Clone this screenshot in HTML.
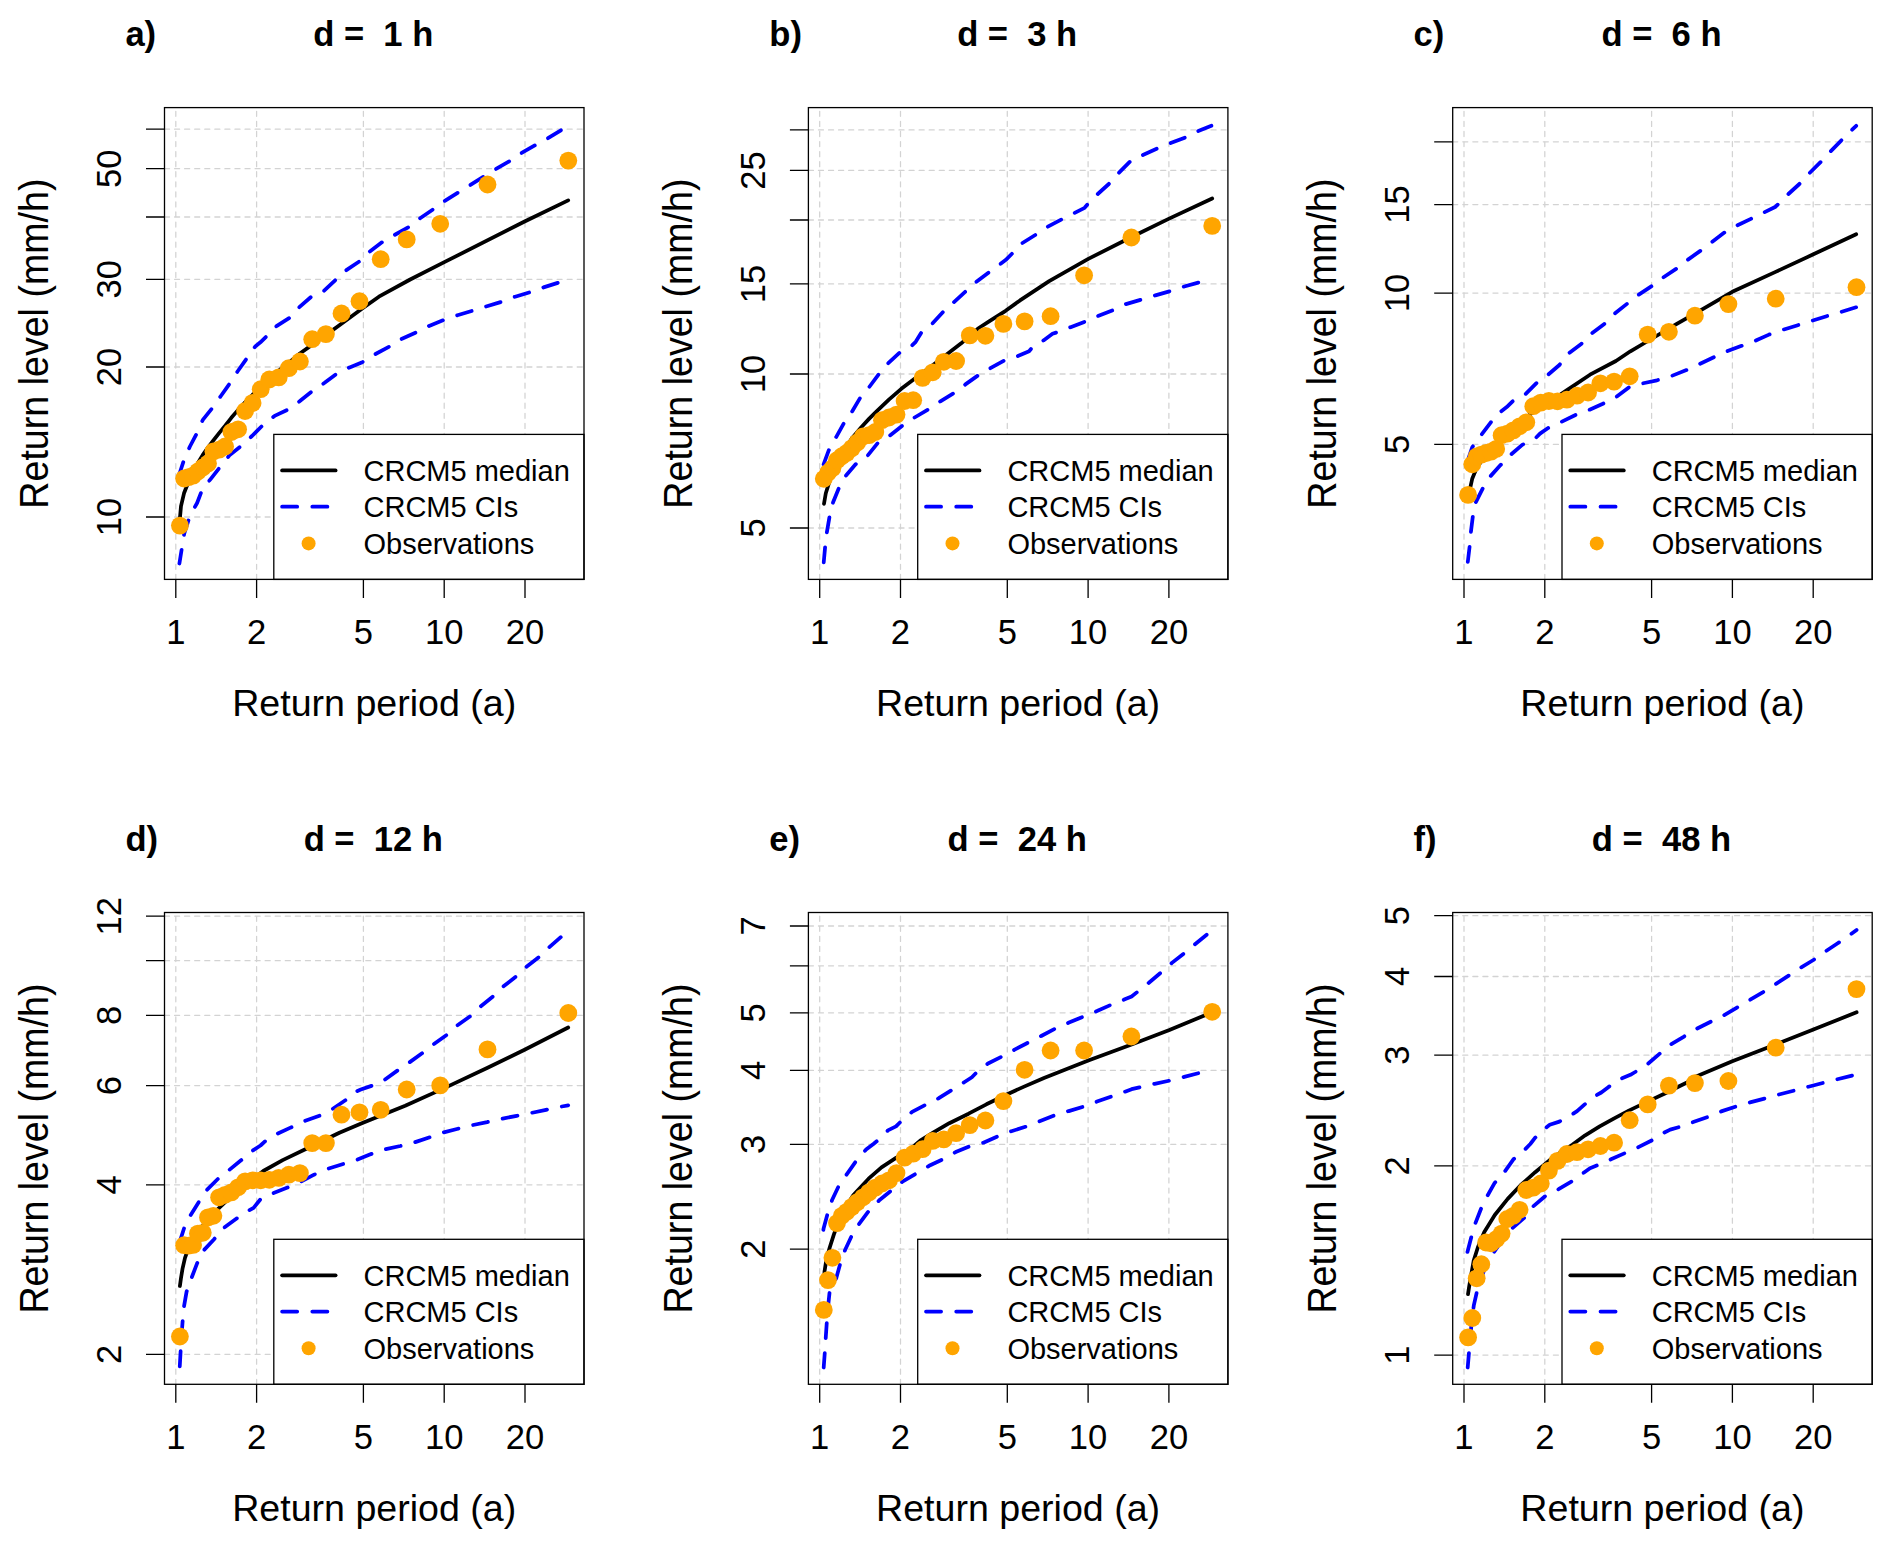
<!DOCTYPE html>
<html lang="en"><head><meta charset="utf-8"><title>Return level plots</title>
<style>html,body{margin:0;padding:0;background:#fff}body{width:1892px;height:1549px;overflow:hidden}svg{display:block}</style>
</head><body>
<svg width="1892" height="1549" viewBox="0 0 1892 1549" font-family='"Liberation Sans", Arial, Helvetica, sans-serif'>
<rect width="1892" height="1549" fill="#fff"/>
<g transform="translate(0.0,0.0)">
<clipPath id="cp0"><rect x="164.5" y="107.6" width="419.5" height="471.79999999999995"/></clipPath>
<path d="M175.8 579.4V107.6M256.6 579.4V107.6M363.4 579.4V107.6M444.2 579.4V107.6M525.0 579.4V107.6M164.5 129.2H584.0M164.5 168.7H584.0M164.5 217.0H584.0M164.5 279.3H584.0M164.5 367.0H584.0M164.5 517.0H584.0" stroke="#d3d3d3" stroke-width="1.26" stroke-linecap="round" stroke-dasharray="5.033 5.033" fill="none"/>
<g clip-path="url(#cp0)" fill="none" stroke-linecap="round" stroke-linejoin="round" stroke-width="3.75">
<polyline points="179.9,518.3 181.0,506.2 184.0,493.3 188.4,482.0 193.1,472.7 197.9,463.0 202.8,454.9 207.9,447.7 213.4,440.4 219.1,433.1 225.0,425.9 231.3,417.8 238.1,409.9 245.1,402.3 252.6,394.7 260.7,387.1 269.3,378.7 278.6,370.7 288.8,362.6 299.9,353.5 322.9,337.1 339.4,325.2 363.3,307.8 378.9,296.7 410.2,279.5 444.3,262.2 524.6,221.5 568.2,200.4" stroke="#000"/>
<polyline points="568.2,125.8 562.5,129.3 548.0,138.2 536.5,144.5 521.6,153.0 510.6,160.6 495.8,169.1 485.1,175.7 469.9,185.3 459.1,191.9 444.8,200.9 434.1,208.7 420.1,218.2 409.9,226.4 394.5,235.0 383.3,241.3 369.8,251.5 360.8,260.5 346.0,270.4 336.9,278.6 323.8,291.0 312.2,295.9 299.1,307.4 290.0,317.6 276.5,326.1 267.0,335.9 260.4,342.3 255.2,346.5 247.2,357.8 237.5,371.5 230.2,382.8 220.5,396.5 212.5,407.8 202.8,419.9 197.1,432.8 189.9,446.5 184.2,459.4 179.4,474.0 178.2,477.2" stroke="#0000ff" stroke-dasharray="15.1 15.1" stroke-dashoffset="21.60"/>
<polyline points="568.2,279.5 559.5,282.3 543.5,287.4 530.4,292.1 515.1,296.7 501.9,301.7 485.9,306.6 472.7,310.7 457.4,315.3 444.3,319.8 429.1,325.9 416.8,332.1 402.0,338.7 389.6,346.5 374.8,354.4 361.7,362.6 349.6,367.4 337.5,373.1 324.6,382.8 311.7,391.6 299.6,401.3 288.3,409.4 274.6,415.9 263.3,424.7 252.0,436.0 241.5,445.7 229.4,455.4 219.7,467.5 210.8,478.8 202.0,490.1 197.1,503.0 189.9,515.9 184.2,533.7 179.4,563.5" stroke="#0000ff" stroke-dasharray="15.1 15.1" stroke-dashoffset="19.20"/>
</g>
<g clip-path="url(#cp0)" fill="#ffa500">
<circle cx="179.9" cy="525.6" r="8.9"/>
<circle cx="184.1" cy="478.5" r="8.9"/>
<circle cx="188.5" cy="477.2" r="8.9"/>
<circle cx="193.1" cy="475.6" r="8.9"/>
<circle cx="197.9" cy="471.5" r="8.9"/>
<circle cx="202.8" cy="467.5" r="8.9"/>
<circle cx="208.0" cy="463.5" r="8.9"/>
<circle cx="213.4" cy="451.4" r="8.9"/>
<circle cx="219.1" cy="449.7" r="8.9"/>
<circle cx="225.1" cy="446.5" r="8.9"/>
<circle cx="231.4" cy="432.0" r="8.9"/>
<circle cx="238.1" cy="429.3" r="8.9"/>
<circle cx="245.1" cy="411.0" r="8.9"/>
<circle cx="252.6" cy="402.9" r="8.9"/>
<circle cx="260.7" cy="389.2" r="8.9"/>
<circle cx="269.3" cy="379.5" r="8.9"/>
<circle cx="278.7" cy="377.4" r="8.9"/>
<circle cx="288.8" cy="368.2" r="8.9"/>
<circle cx="299.9" cy="361.5" r="8.9"/>
<circle cx="312.2" cy="339.2" r="8.9"/>
<circle cx="325.9" cy="334.1" r="8.9"/>
<circle cx="341.5" cy="313.5" r="8.9"/>
<circle cx="359.5" cy="301.2" r="8.9"/>
<circle cx="380.7" cy="259.2" r="8.9"/>
<circle cx="406.7" cy="239.4" r="8.9"/>
<circle cx="440.2" cy="223.8" r="8.9"/>
<circle cx="487.5" cy="184.5" r="8.9"/>
<circle cx="568.3" cy="160.6" r="8.9"/>
</g>
<rect x="273.8" y="434.4" width="310.2" height="145.0" fill="#fff" stroke="#000" stroke-width="1.3"/>
<path d="M282.1 470.4H335.6" stroke="#000" stroke-width="3.75" stroke-linecap="round"/>
<path d="M282.1 506.7H335.6" stroke="#0000ff" stroke-width="3.75" stroke-linecap="round" stroke-dasharray="15.1 15.1"/>
<circle cx="308.6" cy="543.4" r="7" fill="#ffa500"/>
<text x="363.5" y="481.1" font-size="29.0">CRCM5 median</text>
<text x="363.5" y="517.4" font-size="29.0">CRCM5 CIs</text>
<text x="363.5" y="553.7" font-size="29.0">Observations</text>
<rect x="164.5" y="107.6" width="419.5" height="471.79999999999995" fill="none" stroke="#000" stroke-width="1.3"/>
<text x="175.8" y="644" font-size="34.6" text-anchor="middle">1</text>
<text x="256.6" y="644" font-size="34.6" text-anchor="middle">2</text>
<text x="363.4" y="644" font-size="34.6" text-anchor="middle">5</text>
<text x="444.2" y="644" font-size="34.6" text-anchor="middle">10</text>
<text x="525.0" y="644" font-size="34.6" text-anchor="middle">20</text>
<text transform="translate(121,168.7) rotate(-90)" font-size="34.6" text-anchor="middle">50</text>
<text transform="translate(121,279.3) rotate(-90)" font-size="34.6" text-anchor="middle">30</text>
<text transform="translate(121,367.0) rotate(-90)" font-size="34.6" text-anchor="middle">20</text>
<text transform="translate(121,517.0) rotate(-90)" font-size="34.6" text-anchor="middle">10</text>
<path d="M175.8 579.4v18.5M256.6 579.4v18.5M363.4 579.4v18.5M444.2 579.4v18.5M525.0 579.4v18.5M164.5 129.2h-18.5M164.5 168.7h-18.5M164.5 217.0h-18.5M164.5 279.3h-18.5M164.5 367.0h-18.5M164.5 517.0h-18.5" stroke="#000" stroke-width="1.3" fill="none"/>
<text x="374.2" y="716.3" font-size="37.6" text-anchor="middle">Return period (a)</text>
<text transform="translate(48.0,343.6) rotate(-90) scale(1,1.066)" font-size="37.6" text-anchor="middle">Return level (mm/h)</text>
<text x="373.3" y="46" font-size="34.6" font-weight="bold" text-anchor="middle" xml:space="preserve" style="white-space:pre">d =  1 h</text>
<text x="125.4" y="46" font-size="34.6" font-weight="bold">a)</text>
</g>
<g transform="translate(643.9,0.0)">
<clipPath id="cp1"><rect x="164.5" y="107.6" width="419.5" height="471.79999999999995"/></clipPath>
<path d="M175.8 579.4V107.6M256.6 579.4V107.6M363.4 579.4V107.6M444.2 579.4V107.6M525.0 579.4V107.6M164.5 129.9H584.0M164.5 170.4H584.0M164.5 220.0H584.0M164.5 283.9H584.0M164.5 374.0H584.0M164.5 528.0H584.0" stroke="#d3d3d3" stroke-width="1.26" stroke-linecap="round" stroke-dasharray="5.033 5.033" fill="none"/>
<g clip-path="url(#cp1)" fill="none" stroke-linecap="round" stroke-linejoin="round" stroke-width="3.75">
<polyline points="180.1,503.8 181.9,493.3 185.9,480.4 192.4,464.3 200.4,449.7 208.5,437.6 217.4,427.2 225.1,418.9 232.7,411.3 245.0,399.6 257.4,388.8 270.3,378.9 290.4,364.0 317.3,343.3 333.8,328.8 345.2,321.4 361.7,310.8 376.1,300.4 405.3,281.1 444.4,258.9 487.7,237.0 524.7,218.9 568.3,198.5" stroke="#000"/>
<polyline points="567.5,125.8 553.5,131.3 541.2,137.5 525.5,143.6 513.2,148.6 498.4,155.2 488.2,159.6 486.0,161.7 474.5,173.3 464.9,184.0 453.1,194.7 443.5,204.5 440.7,207.8 430.0,213.3 417.7,219.4 403.7,226.8 391.4,235.0 378.2,243.2 368.4,253.4 361.7,260.1 356.0,264.3 344.7,272.5 331.8,282.4 321.4,291.7 309.6,302.5 299.2,311.8 288.4,323.7 277.5,332.5 271.8,341.8 268.2,345.4 255.8,352.6 244.0,363.5 235.1,373.9 225.5,386.8 216.6,397.3 208.5,411.0 199.6,423.9 192.4,436.8 185.1,449.7 179.1,465.9 177.9,470.7" stroke="#0000ff" stroke-dasharray="15.1 15.1" stroke-dashoffset="31.20"/>
<polyline points="568.3,278.6 555.5,282.3 540.3,286.5 526.7,291.0 511.5,295.4 497.9,299.5 481.9,304.1 469.6,309.9 454.7,315.7 441.6,321.4 426.7,327.2 413.6,332.1 408.6,333.8 399.6,340.4 388.1,347.8 385.2,351.3 373.9,356.1 361.0,360.2 346.5,368.2 335.2,374.7 321.5,384.4 311.0,392.5 296.5,401.3 284.4,409.4 270.7,417.5 258.6,425.5 246.4,435.2 234.3,442.5 223.9,455.4 211.7,464.3 202.1,475.6 194.8,488.5 189.2,502.2 185.9,515.1 183.0,532.1 181.4,545.0 179.8,562.7" stroke="#0000ff" stroke-dasharray="15.1 15.1" stroke-dashoffset="15.70"/>
</g>
<g clip-path="url(#cp1)" fill="#ffa500">
<circle cx="179.9" cy="478.8" r="8.9"/>
<circle cx="184.1" cy="472.7" r="8.9"/>
<circle cx="188.5" cy="468.3" r="8.9"/>
<circle cx="193.1" cy="460.2" r="8.9"/>
<circle cx="197.9" cy="456.2" r="8.9"/>
<circle cx="202.8" cy="453.0" r="8.9"/>
<circle cx="208.0" cy="448.1" r="8.9"/>
<circle cx="213.4" cy="442.5" r="8.9"/>
<circle cx="219.1" cy="436.4" r="8.9"/>
<circle cx="225.1" cy="435.2" r="8.9"/>
<circle cx="231.4" cy="432.0" r="8.9"/>
<circle cx="238.1" cy="420.2" r="8.9"/>
<circle cx="245.1" cy="417.5" r="8.9"/>
<circle cx="252.6" cy="414.6" r="8.9"/>
<circle cx="260.7" cy="401.0" r="8.9"/>
<circle cx="269.3" cy="400.2" r="8.9"/>
<circle cx="278.7" cy="377.9" r="8.9"/>
<circle cx="288.8" cy="372.3" r="8.9"/>
<circle cx="299.9" cy="361.8" r="8.9"/>
<circle cx="312.2" cy="361.0" r="8.9"/>
<circle cx="325.9" cy="335.4" r="8.9"/>
<circle cx="341.5" cy="335.8" r="8.9"/>
<circle cx="359.5" cy="323.9" r="8.9"/>
<circle cx="380.7" cy="321.4" r="8.9"/>
<circle cx="406.7" cy="316.2" r="8.9"/>
<circle cx="440.2" cy="275.3" r="8.9"/>
<circle cx="487.5" cy="237.5" r="8.9"/>
<circle cx="568.3" cy="225.9" r="8.9"/>
</g>
<rect x="273.8" y="434.4" width="310.2" height="145.0" fill="#fff" stroke="#000" stroke-width="1.3"/>
<path d="M282.1 470.4H335.6" stroke="#000" stroke-width="3.75" stroke-linecap="round"/>
<path d="M282.1 506.7H335.6" stroke="#0000ff" stroke-width="3.75" stroke-linecap="round" stroke-dasharray="15.1 15.1"/>
<circle cx="308.6" cy="543.4" r="7" fill="#ffa500"/>
<text x="363.5" y="481.1" font-size="29.0">CRCM5 median</text>
<text x="363.5" y="517.4" font-size="29.0">CRCM5 CIs</text>
<text x="363.5" y="553.7" font-size="29.0">Observations</text>
<rect x="164.5" y="107.6" width="419.5" height="471.79999999999995" fill="none" stroke="#000" stroke-width="1.3"/>
<text x="175.8" y="644" font-size="34.6" text-anchor="middle">1</text>
<text x="256.6" y="644" font-size="34.6" text-anchor="middle">2</text>
<text x="363.4" y="644" font-size="34.6" text-anchor="middle">5</text>
<text x="444.2" y="644" font-size="34.6" text-anchor="middle">10</text>
<text x="525.0" y="644" font-size="34.6" text-anchor="middle">20</text>
<text transform="translate(121,170.4) rotate(-90)" font-size="34.6" text-anchor="middle">25</text>
<text transform="translate(121,283.9) rotate(-90)" font-size="34.6" text-anchor="middle">15</text>
<text transform="translate(121,374.0) rotate(-90)" font-size="34.6" text-anchor="middle">10</text>
<text transform="translate(121,528.0) rotate(-90)" font-size="34.6" text-anchor="middle">5</text>
<path d="M175.8 579.4v18.5M256.6 579.4v18.5M363.4 579.4v18.5M444.2 579.4v18.5M525.0 579.4v18.5M164.5 129.9h-18.5M164.5 170.4h-18.5M164.5 220.0h-18.5M164.5 283.9h-18.5M164.5 374.0h-18.5M164.5 528.0h-18.5" stroke="#000" stroke-width="1.3" fill="none"/>
<text x="374.2" y="716.3" font-size="37.6" text-anchor="middle">Return period (a)</text>
<text transform="translate(48.0,343.6) rotate(-90) scale(1,1.066)" font-size="37.6" text-anchor="middle">Return level (mm/h)</text>
<text x="373.3" y="46" font-size="34.6" font-weight="bold" text-anchor="middle" xml:space="preserve" style="white-space:pre">d =  3 h</text>
<text x="125.4" y="46" font-size="34.6" font-weight="bold">b)</text>
</g>
<g transform="translate(1288.2,0.0)">
<clipPath id="cp2"><rect x="164.5" y="107.6" width="419.5" height="471.79999999999995"/></clipPath>
<path d="M175.8 579.4V107.6M256.6 579.4V107.6M363.4 579.4V107.6M444.2 579.4V107.6M525.0 579.4V107.6M164.5 141.8H584.0M164.5 204.6H584.0M164.5 293.1H584.0M164.5 444.4H584.0" stroke="#d3d3d3" stroke-width="1.26" stroke-linecap="round" stroke-dasharray="5.033 5.033" fill="none"/>
<g clip-path="url(#cp2)" fill="none" stroke-linecap="round" stroke-linejoin="round" stroke-width="3.75">
<polyline points="179.7,497.4 182.4,486.1 184.0,478.8 188.0,469.1 192.9,461.4 202.4,451.4 207.6,444.9 213.1,438.5 224.7,428.0 231.0,422.6 237.8,417.5 243.7,413.1 247.8,410.5 252.3,407.6 260.5,402.3 268.9,396.8 278.4,390.4 301.8,374.7 327.7,361.0 342.2,351.3 362.2,339.5 388.6,323.9 414.9,308.8 444.1,291.8 487.4,271.9 525.2,254.3 568.0,234.2" stroke="#000"/>
<polyline points="568.0,125.8 562.6,131.0 553.2,140.3 541.4,152.4 532.3,162.2 520.3,174.1 511.2,184.0 498.9,195.2 487.4,206.7 475.0,212.8 462.7,218.9 447.9,225.9 436.3,232.5 423.2,242.4 412.5,250.6 398.5,260.5 388.1,268.8 373.8,278.3 363.1,286.4 349.1,295.6 338.4,304.1 326.0,314.0 316.1,323.9 303.0,333.8 293.0,344.0 280.0,353.7 271.2,365.0 259.9,374.7 248.6,382.8 236.5,394.9 224.4,401.3 219.5,406.2 212.3,411.8 202.6,422.3 192.9,435.2 184.0,447.3 178.8,462.7" stroke="#0000ff" stroke-dasharray="15.1 15.1" stroke-dashoffset="9.50"/>
<polyline points="567.9,307.3 551.6,312.4 538.4,316.2 522.8,321.1 509.6,325.2 493.9,330.0 480.8,334.6 466.0,341.2 452.8,346.1 437.1,351.9 398.7,369.9 382.5,376.3 368.8,380.3 353.5,383.6 341.4,386.8 327.7,397.3 314.7,403.8 300.2,410.2 287.3,415.0 272.8,422.0 259.9,428.0 251.8,433.6 247.0,438.5 234.0,444.9 222.7,454.6 212.3,465.1 202.1,476.4 194.5,488.5 187.6,502.2 184.8,515.1 182.7,532.1 181.6,545.0 179.5,562.7" stroke="#0000ff" stroke-dasharray="15.1 15.1" stroke-dashoffset="30.20"/>
</g>
<g clip-path="url(#cp2)" fill="#ffa500">
<circle cx="179.9" cy="494.9" r="8.9"/>
<circle cx="184.1" cy="464.3" r="8.9"/>
<circle cx="188.5" cy="456.5" r="8.9"/>
<circle cx="193.1" cy="454.6" r="8.9"/>
<circle cx="197.9" cy="453.0" r="8.9"/>
<circle cx="202.8" cy="451.7" r="8.9"/>
<circle cx="208.0" cy="448.9" r="8.9"/>
<circle cx="213.4" cy="435.2" r="8.9"/>
<circle cx="219.1" cy="433.6" r="8.9"/>
<circle cx="225.1" cy="430.4" r="8.9"/>
<circle cx="231.4" cy="426.3" r="8.9"/>
<circle cx="238.1" cy="422.3" r="8.9"/>
<circle cx="245.1" cy="406.2" r="8.9"/>
<circle cx="252.6" cy="402.6" r="8.9"/>
<circle cx="260.7" cy="401.0" r="8.9"/>
<circle cx="269.3" cy="401.3" r="8.9"/>
<circle cx="278.7" cy="399.7" r="8.9"/>
<circle cx="288.8" cy="395.7" r="8.9"/>
<circle cx="299.9" cy="392.5" r="8.9"/>
<circle cx="312.2" cy="383.3" r="8.9"/>
<circle cx="325.9" cy="381.6" r="8.9"/>
<circle cx="341.5" cy="376.3" r="8.9"/>
<circle cx="359.5" cy="334.6" r="8.9"/>
<circle cx="380.7" cy="331.8" r="8.9"/>
<circle cx="406.7" cy="315.7" r="8.9"/>
<circle cx="440.2" cy="304.1" r="8.9"/>
<circle cx="487.5" cy="298.7" r="8.9"/>
<circle cx="568.3" cy="287.2" r="8.9"/>
</g>
<rect x="273.8" y="434.4" width="310.2" height="145.0" fill="#fff" stroke="#000" stroke-width="1.3"/>
<path d="M282.1 470.4H335.6" stroke="#000" stroke-width="3.75" stroke-linecap="round"/>
<path d="M282.1 506.7H335.6" stroke="#0000ff" stroke-width="3.75" stroke-linecap="round" stroke-dasharray="15.1 15.1"/>
<circle cx="308.6" cy="543.4" r="7" fill="#ffa500"/>
<text x="363.5" y="481.1" font-size="29.0">CRCM5 median</text>
<text x="363.5" y="517.4" font-size="29.0">CRCM5 CIs</text>
<text x="363.5" y="553.7" font-size="29.0">Observations</text>
<rect x="164.5" y="107.6" width="419.5" height="471.79999999999995" fill="none" stroke="#000" stroke-width="1.3"/>
<text x="175.8" y="644" font-size="34.6" text-anchor="middle">1</text>
<text x="256.6" y="644" font-size="34.6" text-anchor="middle">2</text>
<text x="363.4" y="644" font-size="34.6" text-anchor="middle">5</text>
<text x="444.2" y="644" font-size="34.6" text-anchor="middle">10</text>
<text x="525.0" y="644" font-size="34.6" text-anchor="middle">20</text>
<text transform="translate(121,204.6) rotate(-90)" font-size="34.6" text-anchor="middle">15</text>
<text transform="translate(121,293.1) rotate(-90)" font-size="34.6" text-anchor="middle">10</text>
<text transform="translate(121,444.4) rotate(-90)" font-size="34.6" text-anchor="middle">5</text>
<path d="M175.8 579.4v18.5M256.6 579.4v18.5M363.4 579.4v18.5M444.2 579.4v18.5M525.0 579.4v18.5M164.5 141.8h-18.5M164.5 204.6h-18.5M164.5 293.1h-18.5M164.5 444.4h-18.5" stroke="#000" stroke-width="1.3" fill="none"/>
<text x="374.2" y="716.3" font-size="37.6" text-anchor="middle">Return period (a)</text>
<text transform="translate(48.0,343.6) rotate(-90) scale(1,1.066)" font-size="37.6" text-anchor="middle">Return level (mm/h)</text>
<text x="373.3" y="46" font-size="34.6" font-weight="bold" text-anchor="middle" xml:space="preserve" style="white-space:pre">d =  6 h</text>
<text x="125.4" y="46" font-size="34.6" font-weight="bold">c)</text>
</g>
<g transform="translate(0.0,804.9)">
<clipPath id="cp3"><rect x="164.5" y="107.6" width="419.5" height="471.79999999999995"/></clipPath>
<path d="M175.8 579.4V107.6M256.6 579.4V107.6M363.4 579.4V107.6M444.2 579.4V107.6M525.0 579.4V107.6M164.5 111.3H584.0M164.5 155.8H584.0M164.5 210.5H584.0M164.5 280.7H584.0M164.5 379.9H584.0M164.5 549.4H584.0" stroke="#d3d3d3" stroke-width="1.26" stroke-linecap="round" stroke-dasharray="5.033 5.033" fill="none"/>
<g clip-path="url(#cp3)" fill="none" stroke-linecap="round" stroke-linejoin="round" stroke-width="3.75">
<polyline points="179.9,481.1 181.0,473.1 182.6,463.4 185.0,452.9 188.2,444.0 193.1,435.9 198.7,426.3 205.2,417.4 211.6,410.1 218.9,403.3 227.8,394.8 238.1,385.9 250.4,375.9 263.3,366.1 282.7,355.2 305.3,344.4 339.4,327.9 362.4,318.1 405.2,300.8 444.3,283.2 487.6,262.9 524.6,244.8 568.2,222.6" stroke="#000"/>
<polyline points="568.2,125.9 562.0,131.2 548.8,142.7 539.8,151.5 526.3,162.0 516.9,171.0 503.5,181.4 493.7,191.0 480.6,201.5 470.6,211.1 457.1,220.6 447.2,229.7 433.6,239.4 422.5,248.1 409.4,257.5 397.8,265.4 384.7,274.8 380.5,277.4 372.3,280.7 360.8,284.6 357.5,286.0 346.0,295.0 332.5,304.1 319.6,310.7 304.8,316.1 290.0,323.0 277.3,328.9 266.4,335.2 260.5,340.6 252.8,345.6 242.3,354.4 229.4,364.9 218.1,373.8 206.8,385.1 198.7,397.2 190.7,410.1 184.2,423.0 179.0,439.2 178.6,444.0" stroke="#0000ff" stroke-dasharray="15.1 15.1" stroke-dashoffset="20.40"/>
<polyline points="568.2,300.5 560.0,301.9 546.0,304.9 530.4,308.2 516.7,311.0 500.7,314.0 487.1,317.2 471.1,320.5 457.9,323.8 442.3,327.9 429.1,332.6 413.5,337.8 400.3,341.1 383.5,344.7 369.8,349.6 356.1,355.2 342.4,359.3 327.0,364.1 314.1,369.8 300.4,377.0 287.5,382.7 273.0,388.3 260.1,394.8 253.6,402.9 248.0,406.1 235.9,414.1 223.8,423.0 214.1,434.3 203.6,445.6 197.1,458.5 191.5,473.1 186.6,486.8 183.9,502.1 182.6,516.6 181.5,531.2 180.7,544.9 179.7,562.6" stroke="#0000ff" stroke-dasharray="15.1 15.1" stroke-dashoffset="8.60"/>
</g>
<g clip-path="url(#cp3)" fill="#ffa500">
<circle cx="179.9" cy="531.6" r="8.9"/>
<circle cx="184.1" cy="440.3" r="8.9"/>
<circle cx="188.5" cy="440.8" r="8.9"/>
<circle cx="193.1" cy="440.0" r="8.9"/>
<circle cx="197.9" cy="428.7" r="8.9"/>
<circle cx="202.8" cy="427.9" r="8.9"/>
<circle cx="208.0" cy="412.5" r="8.9"/>
<circle cx="213.4" cy="410.9" r="8.9"/>
<circle cx="219.1" cy="392.4" r="8.9"/>
<circle cx="225.1" cy="389.9" r="8.9"/>
<circle cx="231.4" cy="387.5" r="8.9"/>
<circle cx="238.1" cy="382.4" r="8.9"/>
<circle cx="245.1" cy="376.5" r="8.9"/>
<circle cx="252.6" cy="375.4" r="8.9"/>
<circle cx="260.7" cy="375.4" r="8.9"/>
<circle cx="269.3" cy="374.9" r="8.9"/>
<circle cx="278.7" cy="373.0" r="8.9"/>
<circle cx="288.8" cy="369.8" r="8.9"/>
<circle cx="299.9" cy="368.2" r="8.9"/>
<circle cx="312.2" cy="338.2" r="8.9"/>
<circle cx="325.9" cy="338.2" r="8.9"/>
<circle cx="341.5" cy="309.8" r="8.9"/>
<circle cx="359.5" cy="307.4" r="8.9"/>
<circle cx="380.7" cy="304.9" r="8.9"/>
<circle cx="406.7" cy="284.6" r="8.9"/>
<circle cx="440.2" cy="280.5" r="8.9"/>
<circle cx="487.5" cy="244.5" r="8.9"/>
<circle cx="568.3" cy="208.1" r="8.9"/>
</g>
<rect x="273.8" y="434.4" width="310.2" height="145.0" fill="#fff" stroke="#000" stroke-width="1.3"/>
<path d="M282.1 470.4H335.6" stroke="#000" stroke-width="3.75" stroke-linecap="round"/>
<path d="M282.1 506.7H335.6" stroke="#0000ff" stroke-width="3.75" stroke-linecap="round" stroke-dasharray="15.1 15.1"/>
<circle cx="308.6" cy="543.4" r="7" fill="#ffa500"/>
<text x="363.5" y="481.1" font-size="29.0">CRCM5 median</text>
<text x="363.5" y="517.4" font-size="29.0">CRCM5 CIs</text>
<text x="363.5" y="553.7" font-size="29.0">Observations</text>
<rect x="164.5" y="107.6" width="419.5" height="471.79999999999995" fill="none" stroke="#000" stroke-width="1.3"/>
<text x="175.8" y="644" font-size="34.6" text-anchor="middle">1</text>
<text x="256.6" y="644" font-size="34.6" text-anchor="middle">2</text>
<text x="363.4" y="644" font-size="34.6" text-anchor="middle">5</text>
<text x="444.2" y="644" font-size="34.6" text-anchor="middle">10</text>
<text x="525.0" y="644" font-size="34.6" text-anchor="middle">20</text>
<text transform="translate(121,111.3) rotate(-90)" font-size="34.6" text-anchor="middle">12</text>
<text transform="translate(121,210.5) rotate(-90)" font-size="34.6" text-anchor="middle">8</text>
<text transform="translate(121,280.7) rotate(-90)" font-size="34.6" text-anchor="middle">6</text>
<text transform="translate(121,379.9) rotate(-90)" font-size="34.6" text-anchor="middle">4</text>
<text transform="translate(121,549.4) rotate(-90)" font-size="34.6" text-anchor="middle">2</text>
<path d="M175.8 579.4v18.5M256.6 579.4v18.5M363.4 579.4v18.5M444.2 579.4v18.5M525.0 579.4v18.5M164.5 111.3h-18.5M164.5 155.8h-18.5M164.5 210.5h-18.5M164.5 280.7h-18.5M164.5 379.9h-18.5M164.5 549.4h-18.5" stroke="#000" stroke-width="1.3" fill="none"/>
<text x="374.2" y="716.3" font-size="37.6" text-anchor="middle">Return period (a)</text>
<text transform="translate(48.0,343.6) rotate(-90) scale(1,1.066)" font-size="37.6" text-anchor="middle">Return level (mm/h)</text>
<text x="373.3" y="46" font-size="34.6" font-weight="bold" text-anchor="middle" xml:space="preserve" style="white-space:pre">d =  12 h</text>
<text x="125.4" y="46" font-size="34.6" font-weight="bold">d)</text>
</g>
<g transform="translate(643.9,804.9)">
<clipPath id="cp4"><rect x="164.5" y="107.6" width="419.5" height="471.79999999999995"/></clipPath>
<path d="M175.8 579.4V107.6M256.6 579.4V107.6M363.4 579.4V107.6M444.2 579.4V107.6M525.0 579.4V107.6M164.5 121.1H584.0M164.5 160.9H584.0M164.5 207.9H584.0M164.5 265.5H584.0M164.5 339.5H584.0M164.5 444.3H584.0" stroke="#d3d3d3" stroke-width="1.26" stroke-linecap="round" stroke-dasharray="5.033 5.033" fill="none"/>
<g clip-path="url(#cp4)" fill="none" stroke-linecap="round" stroke-linejoin="round" stroke-width="3.75">
<polyline points="180.0,479.5 180.6,466.6 181.9,458.5 184.0,448.8 185.9,442.4 190.0,429.5 194.8,416.6 200.4,404.5 209.3,390.4 224.7,373.8 237.6,362.5 252.1,353.0 263.4,346.7 276.3,335.7 289.2,327.8 305.4,318.3 324.7,308.8 342.5,299.4 360.2,290.8 379.6,282.0 400.1,273.1 444.4,255.5 487.7,239.5 525.5,225.0 568.3,207.4" stroke="#000"/>
<polyline points="568.3,125.4 564.2,128.7 551.4,139.1 540.7,148.0 528.0,158.0 517.3,167.4 505.0,177.8 494.2,186.4 487.7,191.6 480.3,194.6 467.1,199.9 453.1,206.1 439.9,211.5 425.1,217.6 411.9,223.4 397.3,231.1 384.4,237.6 370.7,244.8 357.8,251.8 344.1,258.6 332.8,267.4 328.0,272.3 320.7,277.1 307.8,285.2 294.9,293.3 282.0,299.7 268.2,307.0 256.9,316.7 252.1,321.5 244.0,325.5 234.3,335.2 229.5,339.1 222.2,344.7 213.4,354.4 203.7,368.2 194.8,381.1 188.3,394.8 184.0,407.7 179.8,423.0 178.7,429.5" stroke="#0000ff" stroke-dasharray="15.1 15.1" stroke-dashoffset="23.10"/>
<polyline points="568.3,264.6 556.0,267.9 540.3,272.0 526.4,275.6 510.7,278.9 496.7,282.2 487.7,284.3 481.1,286.8 467.9,291.4 453.1,296.7 439.9,301.6 424.8,306.2 411.1,310.3 396.3,316.1 383.1,321.4 367.5,326.3 354.3,331.2 339.5,337.8 325.5,341.5 311.8,347.2 298.9,354.4 285.2,360.9 273.1,368.2 259.4,376.2 248.1,385.1 236.0,394.8 225.5,405.3 215.8,418.2 207.7,431.1 201.3,444.8 196.4,458.5 192.4,473.1 185.9,485.2 184.3,500.5 183.0,515.8 181.9,532.0 181.1,544.9 179.8,562.6" stroke="#0000ff" stroke-dasharray="15.1 15.1" stroke-dashoffset="15.70"/>
</g>
<g clip-path="url(#cp4)" fill="#ffa500">
<circle cx="179.9" cy="505.0" r="8.9"/>
<circle cx="184.1" cy="475.2" r="8.9"/>
<circle cx="188.5" cy="452.9" r="8.9"/>
<circle cx="193.1" cy="418.2" r="8.9"/>
<circle cx="197.9" cy="410.9" r="8.9"/>
<circle cx="202.8" cy="406.9" r="8.9"/>
<circle cx="208.0" cy="402.0" r="8.9"/>
<circle cx="213.4" cy="397.2" r="8.9"/>
<circle cx="219.1" cy="392.4" r="8.9"/>
<circle cx="225.1" cy="387.5" r="8.9"/>
<circle cx="231.4" cy="382.7" r="8.9"/>
<circle cx="238.1" cy="378.6" r="8.9"/>
<circle cx="245.1" cy="375.4" r="8.9"/>
<circle cx="252.6" cy="368.2" r="8.9"/>
<circle cx="260.7" cy="352.8" r="8.9"/>
<circle cx="269.3" cy="348.8" r="8.9"/>
<circle cx="278.7" cy="344.3" r="8.9"/>
<circle cx="288.8" cy="336.0" r="8.9"/>
<circle cx="299.9" cy="334.5" r="8.9"/>
<circle cx="312.2" cy="328.3" r="8.9"/>
<circle cx="325.9" cy="320.2" r="8.9"/>
<circle cx="341.5" cy="315.6" r="8.9"/>
<circle cx="359.5" cy="296.2" r="8.9"/>
<circle cx="380.7" cy="264.9" r="8.9"/>
<circle cx="406.7" cy="245.6" r="8.9"/>
<circle cx="440.2" cy="245.6" r="8.9"/>
<circle cx="487.5" cy="231.6" r="8.9"/>
<circle cx="568.3" cy="206.9" r="8.9"/>
</g>
<rect x="273.8" y="434.4" width="310.2" height="145.0" fill="#fff" stroke="#000" stroke-width="1.3"/>
<path d="M282.1 470.4H335.6" stroke="#000" stroke-width="3.75" stroke-linecap="round"/>
<path d="M282.1 506.7H335.6" stroke="#0000ff" stroke-width="3.75" stroke-linecap="round" stroke-dasharray="15.1 15.1"/>
<circle cx="308.6" cy="543.4" r="7" fill="#ffa500"/>
<text x="363.5" y="481.1" font-size="29.0">CRCM5 median</text>
<text x="363.5" y="517.4" font-size="29.0">CRCM5 CIs</text>
<text x="363.5" y="553.7" font-size="29.0">Observations</text>
<rect x="164.5" y="107.6" width="419.5" height="471.79999999999995" fill="none" stroke="#000" stroke-width="1.3"/>
<text x="175.8" y="644" font-size="34.6" text-anchor="middle">1</text>
<text x="256.6" y="644" font-size="34.6" text-anchor="middle">2</text>
<text x="363.4" y="644" font-size="34.6" text-anchor="middle">5</text>
<text x="444.2" y="644" font-size="34.6" text-anchor="middle">10</text>
<text x="525.0" y="644" font-size="34.6" text-anchor="middle">20</text>
<text transform="translate(121,121.1) rotate(-90)" font-size="34.6" text-anchor="middle">7</text>
<text transform="translate(121,207.9) rotate(-90)" font-size="34.6" text-anchor="middle">5</text>
<text transform="translate(121,265.5) rotate(-90)" font-size="34.6" text-anchor="middle">4</text>
<text transform="translate(121,339.5) rotate(-90)" font-size="34.6" text-anchor="middle">3</text>
<text transform="translate(121,444.3) rotate(-90)" font-size="34.6" text-anchor="middle">2</text>
<path d="M175.8 579.4v18.5M256.6 579.4v18.5M363.4 579.4v18.5M444.2 579.4v18.5M525.0 579.4v18.5M164.5 121.1h-18.5M164.5 160.9h-18.5M164.5 207.9h-18.5M164.5 265.5h-18.5M164.5 339.5h-18.5M164.5 444.3h-18.5" stroke="#000" stroke-width="1.3" fill="none"/>
<text x="374.2" y="716.3" font-size="37.6" text-anchor="middle">Return period (a)</text>
<text transform="translate(48.0,343.6) rotate(-90) scale(1,1.066)" font-size="37.6" text-anchor="middle">Return level (mm/h)</text>
<text x="373.3" y="46" font-size="34.6" font-weight="bold" text-anchor="middle" xml:space="preserve" style="white-space:pre">d =  24 h</text>
<text x="125.4" y="46" font-size="34.6" font-weight="bold">e)</text>
</g>
<g transform="translate(1288.2,804.9)">
<clipPath id="cp5"><rect x="164.5" y="107.6" width="419.5" height="471.79999999999995"/></clipPath>
<path d="M175.8 579.4V107.6M256.6 579.4V107.6M363.4 579.4V107.6M444.2 579.4V107.6M525.0 579.4V107.6M164.5 110.8H584.0M164.5 171.6H584.0M164.5 250.3H584.0M164.5 360.9H584.0M164.5 550.2H584.0" stroke="#d3d3d3" stroke-width="1.26" stroke-linecap="round" stroke-dasharray="5.033 5.033" fill="none"/>
<g clip-path="url(#cp5)" fill="none" stroke-linecap="round" stroke-linejoin="round" stroke-width="3.75">
<polyline points="179.8,489.2 180.8,482.7 182.4,473.1 184.0,464.2 185.6,455.3 189.7,442.4 196.1,427.1 206.6,410.1 219.5,394.0 232.4,380.3 247.0,367.3 261.5,355.2 272.8,347.2 284.1,339.9 297.0,330.4 311.5,321.5 326.0,313.4 340.6,305.7 359.9,296.5 376.1,288.9 390.6,281.6 399.8,277.1 405.0,272.8 444.1,256.3 487.4,239.5 525.2,224.6 568.4,207.4" stroke="#000"/>
<polyline points="568.4,125.1 561.8,129.9 549.9,138.1 536.8,146.8 525.2,155.1 511.7,163.3 499.7,171.2 486.5,179.8 474.5,187.5 461.0,195.4 447.9,203.2 434.4,211.1 421.5,217.3 407.0,224.6 395.4,231.9 381.7,240.0 370.4,249.7 359.1,259.4 347.0,267.1 342.2,269.9 332.5,273.9 320.4,282.0 313.1,287.6 307.5,290.8 296.2,299.7 288.9,306.2 284.1,309.4 271.2,316.7 261.5,319.9 257.4,323.1 247.0,332.8 242.1,339.1 235.7,345.6 225.2,354.4 215.5,368.2 206.6,377.8 199.3,390.7 192.9,403.7 187.2,418.2 183.2,431.9 179.2,447.2 178.5,452.1" stroke="#0000ff" stroke-dasharray="15.1 15.1" stroke-dashoffset="8.70"/>
<polyline points="568.4,269.7 565.6,270.3 549.1,274.4 535.9,277.7 520.3,281.8 506.8,285.5 490.7,289.6 477.5,293.4 461.8,297.5 447.9,301.6 433.0,306.5 419.9,312.0 405.0,317.2 391.9,321.9 382.0,324.7 376.2,327.6 363.9,335.4 350.2,342.3 337.3,348.0 322.8,354.4 309.9,360.1 301.8,363.3 296.2,367.3 284.1,376.2 270.4,384.3 256.6,391.6 245.3,401.2 235.7,413.3 224.4,423.0 214.7,434.3 205.8,447.2 201.0,455.3 196.1,465.0 192.9,473.1 188.9,486.0 185.6,500.5 183.5,516.6 182.1,532.8 180.8,547.3 179.5,562.6" stroke="#0000ff" stroke-dasharray="15.1 15.1" stroke-dashoffset="25.50"/>
</g>
<g clip-path="url(#cp5)" fill="#ffa500">
<circle cx="179.9" cy="532.5" r="8.9"/>
<circle cx="184.1" cy="513.1" r="8.9"/>
<circle cx="188.5" cy="473.4" r="8.9"/>
<circle cx="193.1" cy="459.3" r="8.9"/>
<circle cx="197.9" cy="437.6" r="8.9"/>
<circle cx="202.8" cy="438.4" r="8.9"/>
<circle cx="208.0" cy="434.3" r="8.9"/>
<circle cx="213.4" cy="428.7" r="8.9"/>
<circle cx="219.1" cy="414.1" r="8.9"/>
<circle cx="225.1" cy="410.9" r="8.9"/>
<circle cx="231.4" cy="404.9" r="8.9"/>
<circle cx="238.1" cy="385.1" r="8.9"/>
<circle cx="245.1" cy="382.7" r="8.9"/>
<circle cx="252.6" cy="378.6" r="8.9"/>
<circle cx="260.7" cy="365.7" r="8.9"/>
<circle cx="269.3" cy="356.0" r="8.9"/>
<circle cx="278.7" cy="349.1" r="8.9"/>
<circle cx="288.8" cy="347.2" r="8.9"/>
<circle cx="299.9" cy="344.4" r="8.9"/>
<circle cx="312.2" cy="341.1" r="8.9"/>
<circle cx="325.9" cy="337.8" r="8.9"/>
<circle cx="341.5" cy="315.3" r="8.9"/>
<circle cx="359.5" cy="299.5" r="8.9"/>
<circle cx="380.7" cy="280.7" r="8.9"/>
<circle cx="406.7" cy="278.2" r="8.9"/>
<circle cx="440.2" cy="276.1" r="8.9"/>
<circle cx="487.5" cy="242.8" r="8.9"/>
<circle cx="568.3" cy="184.2" r="8.9"/>
</g>
<rect x="273.8" y="434.4" width="310.2" height="145.0" fill="#fff" stroke="#000" stroke-width="1.3"/>
<path d="M282.1 470.4H335.6" stroke="#000" stroke-width="3.75" stroke-linecap="round"/>
<path d="M282.1 506.7H335.6" stroke="#0000ff" stroke-width="3.75" stroke-linecap="round" stroke-dasharray="15.1 15.1"/>
<circle cx="308.6" cy="543.4" r="7" fill="#ffa500"/>
<text x="363.5" y="481.1" font-size="29.0">CRCM5 median</text>
<text x="363.5" y="517.4" font-size="29.0">CRCM5 CIs</text>
<text x="363.5" y="553.7" font-size="29.0">Observations</text>
<rect x="164.5" y="107.6" width="419.5" height="471.79999999999995" fill="none" stroke="#000" stroke-width="1.3"/>
<text x="175.8" y="644" font-size="34.6" text-anchor="middle">1</text>
<text x="256.6" y="644" font-size="34.6" text-anchor="middle">2</text>
<text x="363.4" y="644" font-size="34.6" text-anchor="middle">5</text>
<text x="444.2" y="644" font-size="34.6" text-anchor="middle">10</text>
<text x="525.0" y="644" font-size="34.6" text-anchor="middle">20</text>
<text transform="translate(121,110.8) rotate(-90)" font-size="34.6" text-anchor="middle">5</text>
<text transform="translate(121,171.6) rotate(-90)" font-size="34.6" text-anchor="middle">4</text>
<text transform="translate(121,250.3) rotate(-90)" font-size="34.6" text-anchor="middle">3</text>
<text transform="translate(121,360.9) rotate(-90)" font-size="34.6" text-anchor="middle">2</text>
<text transform="translate(121,550.2) rotate(-90)" font-size="34.6" text-anchor="middle">1</text>
<path d="M175.8 579.4v18.5M256.6 579.4v18.5M363.4 579.4v18.5M444.2 579.4v18.5M525.0 579.4v18.5M164.5 110.8h-18.5M164.5 171.6h-18.5M164.5 250.3h-18.5M164.5 360.9h-18.5M164.5 550.2h-18.5" stroke="#000" stroke-width="1.3" fill="none"/>
<text x="374.2" y="716.3" font-size="37.6" text-anchor="middle">Return period (a)</text>
<text transform="translate(48.0,343.6) rotate(-90) scale(1,1.066)" font-size="37.6" text-anchor="middle">Return level (mm/h)</text>
<text x="373.3" y="46" font-size="34.6" font-weight="bold" text-anchor="middle" xml:space="preserve" style="white-space:pre">d =  48 h</text>
<text x="125.4" y="46" font-size="34.6" font-weight="bold">f)</text>
</g>
</svg>
</body></html>
